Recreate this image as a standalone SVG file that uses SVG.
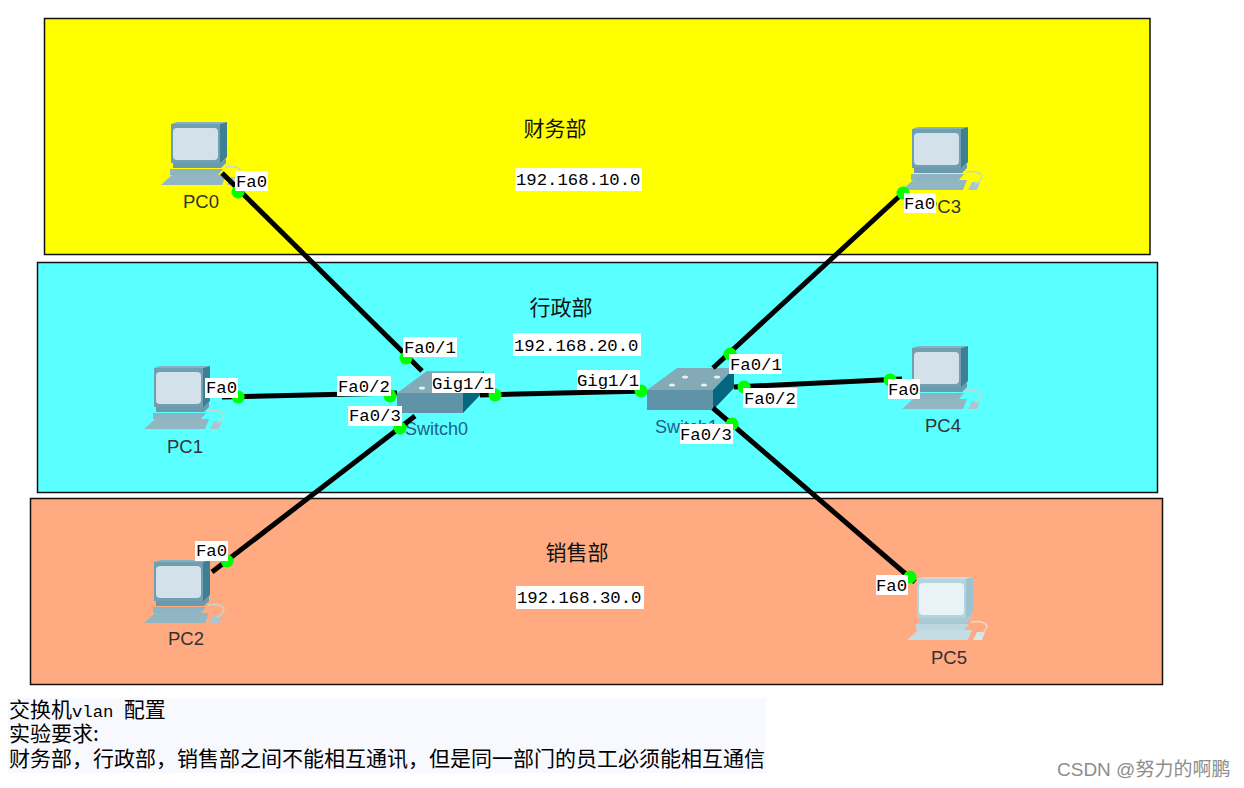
<svg xmlns="http://www.w3.org/2000/svg" width="1244" height="788" viewBox="0 0 1244 788">
<style>
.zone{stroke:#111;stroke-width:1.5}
.link{stroke:#000;stroke-width:5;fill:none}
.port{fill:#0f0;stroke:#0f0;stroke-width:13;stroke-linecap:round;fill:none}
.bg{fill:#fff}
.mono{font-family:"Liberation Mono","DejaVu Sans Mono",monospace;font-size:17.3px;fill:#000}
.cjk{font-family:"Noto Sans CJK SC","Noto Sans",sans-serif;font-size:21px;fill:#111}
.dev{font-family:"Liberation Sans",Arial,sans-serif;font-size:18.500px;fill:#333}
.swl{font-family:"Liberation Sans",Arial,sans-serif;font-size:18px;fill:#1f5f86}
.body{font-family:"Noto Sans CJK SC","Noto Sans",sans-serif;font-size:21px;fill:#000}
.wm{font-family:"Liberation Sans","Noto Sans CJK SC",sans-serif;font-size:19px;fill:#8d8d8d}
</style>
<defs>
<g id="pc">
<path d="M11 5H60V44H11Z" fill="#6f9fb0"/>
<path d="M11 5L17 3H67L60 5Z" fill="#88b0bf"/>
<path d="M60 5L67 3V38L60 45Z" fill="#3f7f94"/>
<rect x="13" y="9" width="45" height="32" rx="4" fill="#d3e2ea"/>
<path d="M13 44H61L66 39V44L61 49H13Z" fill="#6a9aac"/>
<path d="M10 50H63L58 56H10Z" fill="#8fb4c1"/>
<path d="M1 66L12 56H66L62 66Z" fill="#93b6c3"/>
<path d="M67 66L71 58H79L76 66Z" fill="#a9c6d0"/>
<path d="M65 48Q78 46 81 52Q80 58 74 60" fill="none" stroke="#c9d8c8" stroke-width="1.500"/>
</g>
<g id="pcl">
<path d="M11 5H60V44H11Z" fill="#b5d3dc"/>
<path d="M11 5L17 3H67L60 5Z" fill="#c6dde4"/>
<path d="M60 5L67 3V38L60 45Z" fill="#9cc3cf"/>
<rect x="13" y="9" width="45" height="32" rx="4" fill="#e9f2f5"/>
<path d="M13 44H61L66 39V44L61 49H13Z" fill="#a9cbd5"/>
<path d="M10 50H63L58 56H10Z" fill="#bcd7df"/>
<path d="M1 66L12 56H66L62 66Z" fill="#c4dce3"/>
<path d="M67 66L71 58H79L76 66Z" fill="#d6e6ea"/>
<path d="M65 48Q78 46 81 52Q80 58 74 60" fill="none" stroke="#f0d8c8" stroke-width="1.500"/>
</g>
<g id="sw">
<path d="M0 22L30 0H87L66 22Z" fill="#84aab8"/>
<path d="M0 22H66V42H0Z" fill="#5f93a8"/>
<path d="M66 22L87 0V20L66 42Z" fill="#05677f"/>
<ellipse cx="38" cy="9" rx="3" ry="1.500" fill="#e8f0f2"/>
<ellipse cx="25" cy="17" rx="3" ry="1.500" fill="#e8f0f2"/>
<ellipse cx="70" cy="9" rx="3" ry="1.500" fill="#e8f0f2"/>
<ellipse cx="57" cy="17" rx="3" ry="1.500" fill="#e8f0f2"/>
</g>
</defs>
<rect width="1244" height="788" fill="#fff"/>
<g id="zones">
<rect id="zone-finance" class="zone" x="44.500" y="18.500" width="1105.500" height="236" fill="#ffff00"/>
<rect id="zone-admin" class="zone" x="37.500" y="262.500" width="1120" height="230" fill="#5affff"/>
<rect id="zone-sales" class="zone" x="30.500" y="498.500" width="1132" height="186" fill="#ffaa80"/>
</g>
<g id="zone-labels">
<text class="cjk" x="555" y="136" text-anchor="middle">财务部</text>
<rect class="bg" x="515" y="168" width="127" height="23"/>
<text class="mono" x="516" y="185">192.168.10.0</text>
<text class="cjk" x="561" y="315" text-anchor="middle">行政部</text>
<rect class="bg" x="513" y="333" width="128" height="23"/>
<text class="mono" x="514" y="351">192.168.20.0</text>
<text class="cjk" x="577" y="560" text-anchor="middle">销售部</text>
<rect class="bg" x="516" y="586" width="128" height="23"/>
<text class="mono" x="517" y="603">192.168.30.0</text>
</g>
<g id="PC0"><use href="#pc" x="160" y="119"/><text class="dev" x="201" y="208" text-anchor="middle">PC0</text></g>
<g id="PC1"><use href="#pc" x="143" y="363"/><text class="dev" x="185" y="453" text-anchor="middle">PC1</text></g>
<g id="PC2"><use href="#pc" x="143" y="557"/><text class="dev" x="186" y="645" text-anchor="middle">PC2</text></g>
<g id="PC3"><use href="#pc" x="901" y="124"/><text class="dev" x="943" y="213" text-anchor="middle">PC3</text></g>
<g id="PC4"><use href="#pc" x="901" y="343"/><text class="dev" x="943" y="432" text-anchor="middle">PC4</text></g>
<g id="PC5"><use href="#pcl" x="906" y="574"/><text class="dev" x="949" y="664" text-anchor="middle">PC5</text></g>
<g id="Switch0"><use href="#sw" x="397" y="371"/><text class="swl" x="405" y="435">Switch0</text></g>
<g id="Switch1"><use href="#sw" x="647" y="368"/><text class="swl" x="655" y="433">Switch1</text></g>
<g id="connectors">
<path class="link" d="M222 173L422 371"/>
<path class="link" d="M222 397L397 393"/>
<path class="link" d="M212 572L415 416"/>
<path class="link" d="M480 395L647 391"/>
<path class="link" d="M904 192L713 368"/>
<path class="link" d="M902 379L734 387"/>
<path class="link" d="M915 582L713 408"/>
</g>
<g id="ports">
<path class="port" d="M238 192h.1"/>
<path class="port" d="M238 397h.1"/>
<path class="port" d="M227 561h.1"/>
<path class="port" d="M406 358h.1"/>
<path class="port" d="M390 396h.1"/>
<path class="port" d="M400 428h.1"/>
<path class="port" d="M495 395h.1"/>
<path class="port" d="M641 391h.1"/>
<path class="port" d="M730 354h.1"/>
<path class="port" d="M744 387h.1"/>
<path class="port" d="M732 424h.1"/>
<path class="port" d="M903 193h.1"/>
<path class="port" d="M890 380h.1"/>
<path class="port" d="M910 577h.1"/>
</g>
<g id="port-labels">
<rect class="bg" x="235" y="171" width="33" height="20"/><text class="mono" x="236" y="187">Fa0</text>
<rect class="bg" x="205" y="378" width="33" height="20"/><text class="mono" x="206" y="393">Fa0</text>
<rect class="bg" x="195" y="541" width="33" height="20"/><text class="mono" x="196" y="556">Fa0</text>
<rect class="bg" x="403" y="337" width="54" height="20"/><text class="mono" x="404" y="353">Fa0/1</text>
<rect class="bg" x="337" y="376" width="54" height="20"/><text class="mono" x="338" y="392">Fa0/2</text>
<rect class="bg" x="348" y="406" width="54" height="20"/><text class="mono" x="349" y="421">Fa0/3</text>
<rect class="bg" x="432" y="373" width="63" height="20"/><text class="mono" x="432" y="389">Gig1/1</text>
<rect class="bg" x="577" y="370" width="63" height="20"/><text class="mono" x="577" y="386">Gig1/1</text>
<rect class="bg" x="729" y="354" width="53" height="20"/><text class="mono" x="730" y="370">Fa0/1</text>
<rect class="bg" x="743" y="388" width="54" height="20"/><text class="mono" x="744" y="404">Fa0/2</text>
<rect class="bg" x="680" y="424" width="53" height="20"/><text class="mono" x="680" y="440">Fa0/3</text>
<rect class="bg" x="904" y="193" width="32" height="20"/><text class="mono" x="904" y="209">Fa0</text>
<rect class="bg" x="888" y="379" width="32" height="20"/><text class="mono" x="888" y="395">Fa0</text>
<rect class="bg" x="876" y="575" width="32" height="20"/><text class="mono" x="876" y="591">Fa0</text>
</g>
<g id="notes">
<rect x="8" y="698" width="758" height="75" fill="#f8f9fe"/>
<text class="body" x="9" y="717">交换机<tspan class="mono">vlan </tspan>配置</text>
<text class="body" x="9" y="741">实验要求:</text>
<text class="body" x="9" y="766" textLength="756">财务部，行政部，销售部之间不能相互通讯，但是同一部门的员工必须能相互通信</text>
</g>
<text id="watermark" class="wm" x="1057" y="776">CSDN @努力的啊鹏</text>
</svg>
